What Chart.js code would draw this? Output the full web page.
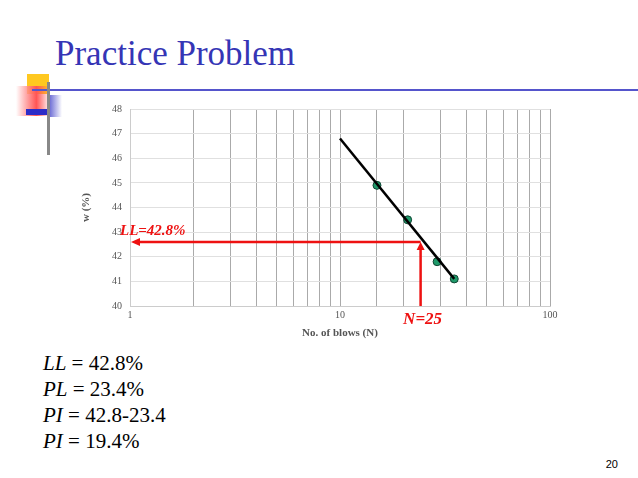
<!DOCTYPE html>
<html>
<head>
<meta charset="utf-8">
<script src="https://cdn.jsdelivr.net/npm/chart.js@4"></script>
<style>
body{margin:0;background:#fff;width:638px;height:478px;position:relative;overflow:hidden;font-family:"Liberation Serif",serif;}
.abs{position:absolute;}
#title{left:55px;top:34px;font-size:35px;color:#3535b5;font-family:"Liberation Serif",serif;}
#notes{left:43px;top:350px;font-size:21px;line-height:26px;color:#000;font-family:"Liberation Serif",serif;}
#notes i{font-style:italic;}
#page{right:20px;top:458px;font-family:"Liberation Sans",sans-serif;font-size:11px;}
</style>
</head>
<body>
<div class="abs" style="left:27px;top:74px;width:22px;height:20px;background:#ffc820;"></div>
<div class="abs" style="left:16px;top:86px;width:34px;height:30px;background:linear-gradient(90deg,rgba(255,255,255,0.6),#f55 60%,rgba(255,255,255,0));"></div>
<div class="abs" style="left:26px;top:109px;width:24px;height:6px;background:#2c2cc8;"></div>
<div class="abs" style="left:48px;top:95px;width:14px;height:22px;background:linear-gradient(90deg,#5a5ad0,rgba(255,255,255,0));"></div>
<div class="abs" style="left:32px;top:89px;width:606px;height:2px;background:#5555cc;"></div>
<div class="abs" style="left:47px;top:82px;width:3px;height:73px;background:#888;"></div>
<div class="abs" id="title">Practice Problem</div>
<div class="abs" style="left:80px;top:95px;width:490px;height:245px;"><canvas id="c" width="490" height="245"></canvas></div>
<div class="abs" id="notes">
<div><i>LL</i> = 42.8%</div>
<div><i>PL</i> = 23.4%</div>
<div><i>PI</i> = 42.8-23.4</div>
<div><i>PI</i> = 19.4%</div>
</div>
<div class="abs" id="page">20</div>
<script>
// measured points
const blows = [15, 21, 29, 35];
const water = [44.9, 43.5, 41.8, 41.1];
// flow curve end points
const fitBlows = [10, 35];
const fitWater = [46.8, 41.1];
// reading at N=25
const readN = 24.2;
const readLL = 42.6;
const xTickLabels = [1, 10, 100];

const arrows = {
	id: "arrows",
	afterDatasetsDraw(chart) {
		const ctx = chart.ctx;
		const x = chart.scales.x, y = chart.scales.y;
		const px = x.getPixelForValue(readN), py = y.getPixelForValue(readLL);
		const x0 = x.getPixelForValue(1), y0 = y.getPixelForValue(40);
		ctx.save();
		ctx.strokeStyle = "#ee1111";
		ctx.fillStyle = "#ee1111";
		ctx.lineWidth = 2.5;
		ctx.beginPath();
		ctx.moveTo(px, y0);
		ctx.lineTo(px, py + 6);
		ctx.moveTo(px, py);
		ctx.lineTo(x0 + 8, py);
		ctx.stroke();
		ctx.beginPath();
		ctx.moveTo(px, py);
		ctx.lineTo(px - 4, py + 8);
		ctx.lineTo(px + 4, py + 8);
		ctx.fill();
		ctx.beginPath();
		ctx.moveTo(x0 + 1, py);
		ctx.lineTo(x0 + 10, py - 4);
		ctx.lineTo(x0 + 10, py + 4);
		ctx.fill();
		ctx.font = "bold italic 15px 'Liberation Serif'";
		ctx.textBaseline = "middle";
		ctx.fillText("LL=42.8%", x0 - 10, y.getPixelForValue(43) - 1);
		ctx.font = "bold italic 17px 'Liberation Serif'";
		ctx.textAlign = "center";
		ctx.fillText("N=25", px + 2, y0 + 14);
		ctx.restore();
	},
};

new Chart(document.getElementById("c"), {
	type: "scatter",
	data: {
		datasets: [
			{
				data: fitBlows.map((b, i) => ({ x: b, y: fitWater[i] })),
				showLine: true,
				borderColor: "#000",
				borderWidth: 2.5,
				pointRadius: 0,
			},
			{
				data: blows.map((b, i) => ({ x: b, y: water[i] })),
				backgroundColor: "#1f9a6a",
				borderColor: "#114433",
				borderWidth: 1,
				pointRadius: 4,
			},
		],
	},
	options: {
		responsive: false,
		animation: false,
		layout: { padding: { top: 8, right: 20 } },
		plugins: { legend: { display: false }, tooltip: { enabled: false } },
		scales: {
			x: {
				type: "logarithmic",
				min: 1,
				max: 100,
				afterFit: (s) => { s.height = 34; },
				grid: { color: "#aaa", lineWidth: 1, drawTicks: false },
				border: { color: "#ccc" },
				ticks: {
					autoSkip: false,
					maxRotation: 0,
					color: "#555",
					font: { family: "Liberation Serif", size: 10 },
					callback: (v) => (xTickLabels.includes(v) ? String(v) : ""),
				},
				title: {
					display: true,
					text: "No. of blows (N)",
					color: "#555",
					padding: 0,
					font: { family: "Liberation Serif", size: 11, weight: "bold" },
				},
			},
			y: {
				min: 40,
				max: 48,
				afterFit: (s) => { s.width = 50; },
				grid: { color: "#e0e0e0", drawTicks: false },
				border: { color: "#ccc" },
				ticks: {
					stepSize: 1,
					padding: 8,
					color: "#555",
					font: { family: "Liberation Serif", size: 10 },
				},
				title: {
					display: true,
					text: "w (%)",
					color: "#555",
					padding: 0,
					font: { family: "Liberation Serif", size: 11, weight: "bold" },
				},
			},
		},
	},
	plugins: [arrows],
});
</script>
</body>
</html>
